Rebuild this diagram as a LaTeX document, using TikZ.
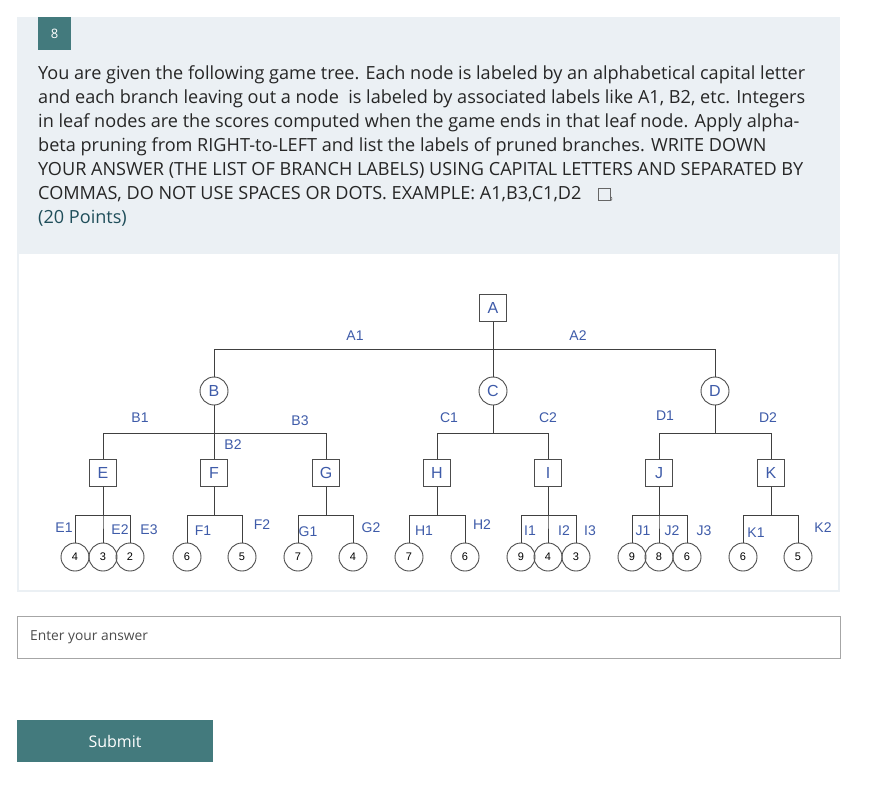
\documentclass[tikz,border=0pt]{standalone}
\usepackage{fontspec}
\setmainfont{Open Sans}
\newfontfamily\hand{Liberation Sans}
\definecolor{panel}{RGB}{235,240,244}
\definecolor{teal}{RGB}{67,122,125}
\definecolor{pts}{RGB}{31,78,90}
\definecolor{ink}{RGB}{62,91,169}
\begin{document}
\begin{tikzpicture}[x=1pt,y=-1pt,
  txt/.style={anchor=base west,inner sep=0pt,font=\fontsize{18.1}{20}\selectfont,text=black!85},
  br/.style={text=ink,font=\hand\fontsize{14}{15}\selectfont,inner sep=0pt},
  sq/.style={draw=black!70,line width=0.9pt,minimum size=27pt,inner sep=0pt,text=ink,font=\hand\fontsize{16}{17}\selectfont},
  ci/.style={draw=black!70,line width=0.9pt,circle,minimum size=28pt,inner sep=0pt,text=ink,font=\hand\fontsize{16}{17}\selectfont},
  lf/.style={draw=black!70,line width=0.9pt,circle,minimum size=28pt,inner sep=0pt,font=\hand\fontsize{11}{12}\selectfont},
  ed/.style={draw=black!75,line width=0.9pt}]
\useasboundingbox (0,0) rectangle (873,792);
\fill[white] (0,0) rectangle (873,792);
\fill[panel] (17,17) rectangle (840,253);
\draw[panel,line width=2pt] (18,253) rectangle (839,591);
\fill[teal] (38,17) rectangle (71,50);
\node[text=white,font=\fontsize{13}{14}\selectfont] (badge) at (54.5,33.5) {8};
\node[txt] (l1) at (38,79) {You are given the following game tree. Each node is labeled by an alphabetical capital letter};
\node[txt] (l2) at (38,103) {and each branch leaving out a node\ \ is labeled by associated labels like A1, B2, etc. Integers};
\node[txt] (l3) at (38,127) {in leaf nodes are the scores computed when the game ends in that leaf node. Apply alpha-};
\node[txt] (l4) at (38,151) {beta pruning from RIGHT-to-LEFT and list the labels of pruned branches. WRITE DOWN};
\node[txt] (l5) at (38,175) {YOUR ANSWER (THE LIST OF BRANCH LABELS) USING CAPITAL LETTERS AND SEPARATED BY};
\node[txt] (l6) at (38,199) {COMMAS, DO NOT USE SPACES OR DOTS. EXAMPLE: A1,B3,C1,D2};
\node[txt,text=pts] (l7) at (38,223) {(20 Points)};
\draw[black!60,line width=0.8pt] (598,188) rectangle (610,200);
\draw[black!60,line width=0.6pt] (611,197) arc (-60:60:2);
% tree
\node[sq] (A) at (493,308) {A};
\node[ci] (B) at (214,391) {B};
\node[ci] (C) at (493,391) {C};
\node[ci] (D) at (715,391) {D};
\coordinate (ad) at (715,349); \coordinate (ac) at (493,349);
\draw[ed] (A) -- (ac); \draw[ed] (B) |- (ad) -- (D); \draw[ed] (ac) -- (C);
\node[br] (A1) at (355,336) {A1}; \node[br] (A2) at (578,336) {A2};
\foreach \n/\x in {E/103,F/214,G/326,H/437,I/548,J/659,K/771}{\node[sq] (\n) at (\x,473) {\n};}
\draw[ed] (B) -- (F); \draw[ed] (E) -- (103,433) -| (G);
\draw[ed] (C) -- (493,433); \draw[ed] (H) -- (437,433) -| (I);
\draw[ed] (D) -- (715,433); \draw[ed] (J) -- (659,433) -| (K);
\foreach \t/\x/\y in {B1/140/418,B2/233/445,B3/300/421,C1/449/418,C2/548/418,D1/665/416,D2/768/418,
 E1/64/528,E2/120/530,E3/149/530,F1/203/531,F2/262/525,G1/308/532,G2/371/528,H1/424/531,H2/482/525,
 I1/530/531,I2/564/531,I3/590/531,J1/643/531,J2/672/531,J3/704/531,K1/756/533,K2/823/528}
 {\node[br] (\t) at (\x,\y) {\t};}
\foreach \p/\x/\v in {E/75/4,E/103/3,E/130/2,F/187/6,F/242/5,G/298/7,G/353/4,H/409/7,H/465/6,
  I/521/9,I/548/4,I/576/3,J/632/9,J/659/8,J/687/6,K/743/6,K/798/5}
 {\node[lf] (L\p\x) at (\x,557) {\v}; \draw[ed] (\p) -- (\p|-0,515) -| (L\p\x);}
% answer
\draw[black!35,fill=white] (17,616) rectangle (840,658);
\node[anchor=west,inner sep=0pt,text=black!70,font=\fontsize{13.8}{15}\selectfont] (ans) at (30,637) {Enter your answer};
\fill[teal] (17,720) rectangle (213,762);
\node[text=white,font=\fontsize{16}{17}\selectfont] (sub) at (115,741) {Submit};
\end{tikzpicture}
\end{document}
